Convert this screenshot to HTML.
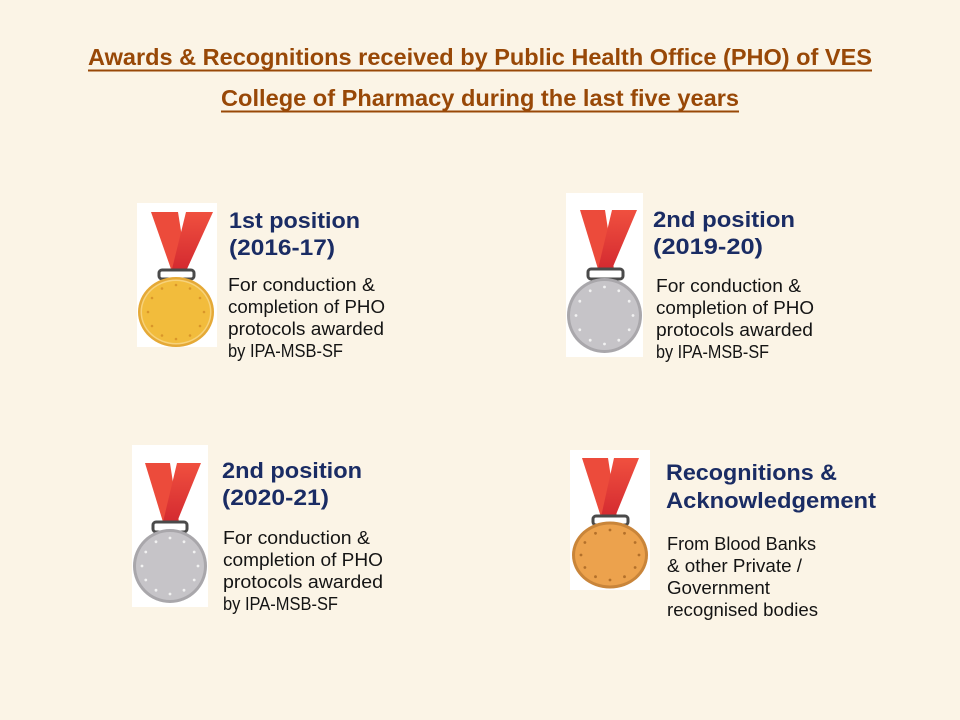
<!DOCTYPE html>
<html><head><meta charset="utf-8"><style>
html,body{margin:0;padding:0;background:#FBF4E6;}
svg{display:block;}
</style></head><body>
<svg width="960" height="720" viewBox="0 0 960 720" xmlns="http://www.w3.org/2000/svg" font-family="Liberation Sans, sans-serif">
<defs>
<linearGradient id="rib" x1="0" y1="0" x2="0" y2="1">
<stop offset="0" stop-color="#F0503F"/><stop offset="1" stop-color="#D42A30"/>
</linearGradient>
</defs>
<rect width="960" height="720" fill="#FBF4E6"/>

<!-- Title -->
<g fill="#984807" font-weight="bold" font-size="23">
<text x="88" y="65" textLength="784" lengthAdjust="spacingAndGlyphs">Awards &amp; Recognitions received by Public Health Office (PHO) of VES</text>
<text x="221" y="106" textLength="518" lengthAdjust="spacingAndGlyphs">College of Pharmacy during the last five years</text>
</g>
<rect x="88" y="69.5" width="784" height="2" fill="#984807"/>
<rect x="221" y="110.5" width="518" height="2" fill="#984807"/>

<!-- Medal 1 gold -->
<rect x="137" y="203" width="80" height="144" fill="#fff"/>
<g>
<polygon points="151,212 178,212 187,269 171,269" fill="#EC4B3B"/>
<polygon points="186,212 213,212 187,269 172,269" fill="url(#rib)"/>
<rect x="159" y="270" width="35" height="9" rx="3" fill="none" stroke="#4A4A4A" stroke-width="3"/>
<ellipse cx="176" cy="312" rx="38" ry="35" fill="#E5A936"/>
<ellipse cx="176" cy="312" rx="35.5" ry="32.5" fill="#F7D27A"/>
<ellipse cx="176" cy="312" rx="34" ry="31" fill="#F2BC3C"/>
<g fill="#D9962A">
<circle cx="176" cy="285" r="1.3"/><circle cx="190" cy="288.5" r="1.3"/><circle cx="200" cy="298" r="1.3"/><circle cx="204" cy="312" r="1.3"/><circle cx="200" cy="326" r="1.3"/><circle cx="190" cy="335.5" r="1.3"/><circle cx="176" cy="339" r="1.3"/><circle cx="162" cy="335.5" r="1.3"/><circle cx="152" cy="326" r="1.3"/><circle cx="148" cy="312" r="1.3"/><circle cx="152" cy="298" r="1.3"/><circle cx="162" cy="288.5" r="1.3"/>
</g>
</g>

<!-- Medal 2 silver -->
<rect x="566" y="193" width="77" height="164" fill="#fff"/>
<g>
<polygon points="580,210 605,210 614,269 598,269" fill="#EC4B3B"/>
<polygon points="612,210 637,210 612,269 598,269" fill="url(#rib)"/>
<rect x="588" y="269" width="35" height="10" rx="3" fill="none" stroke="#4A4A4A" stroke-width="3"/>
<ellipse cx="604.5" cy="315.5" rx="37.5" ry="37.5" fill="#A9A7AB"/>
<ellipse cx="604.5" cy="315.5" rx="34.5" ry="34.5" fill="#C6C4C8"/>
<g fill="#F2F2F2">
<circle cx="604.5" cy="287" r="1.4"/><circle cx="618.8" cy="290.8" r="1.4"/><circle cx="629.2" cy="301.2" r="1.4"/><circle cx="633" cy="315.5" r="1.4"/><circle cx="629.2" cy="329.8" r="1.4"/><circle cx="618.8" cy="340.2" r="1.4"/><circle cx="604.5" cy="344" r="1.4"/><circle cx="590.2" cy="340.2" r="1.4"/><circle cx="579.8" cy="329.8" r="1.4"/><circle cx="576" cy="315.5" r="1.4"/><circle cx="579.8" cy="301.2" r="1.4"/><circle cx="590.2" cy="290.8" r="1.4"/>
</g>
</g>

<!-- Medal 3 silver -->
<rect x="132" y="445" width="76" height="162" fill="#fff"/>
<g>
<polygon points="145,463 170,463 179,522 163,522" fill="#EC4B3B"/>
<polygon points="177,463 201,463 177,522 163,522" fill="url(#rib)"/>
<rect x="153" y="522" width="34" height="10" rx="3" fill="none" stroke="#4A4A4A" stroke-width="3"/>
<ellipse cx="170" cy="566" rx="37" ry="37" fill="#A9A7AB"/>
<ellipse cx="170" cy="566" rx="34" ry="34" fill="#C6C4C8"/>
<g fill="#F2F2F2">
<circle cx="170" cy="538" r="1.4"/><circle cx="184" cy="541.8" r="1.4"/><circle cx="194.2" cy="552" r="1.4"/><circle cx="198" cy="566" r="1.4"/><circle cx="194.2" cy="580" r="1.4"/><circle cx="184" cy="590.2" r="1.4"/><circle cx="170" cy="594" r="1.4"/><circle cx="156" cy="590.2" r="1.4"/><circle cx="145.8" cy="580" r="1.4"/><circle cx="142" cy="566" r="1.4"/><circle cx="145.8" cy="552" r="1.4"/><circle cx="156" cy="541.8" r="1.4"/>
</g>
</g>

<!-- Medal 4 bronze -->
<rect x="570" y="450" width="80" height="140" fill="#fff"/>
<g>
<polygon points="582,458 608,458 617,517 601,517" fill="#EC4B3B"/>
<polygon points="614,458 639,458 615,517 601,517" fill="url(#rib)"/>
<rect x="593" y="516" width="35" height="9" rx="3" fill="none" stroke="#4A4A4A" stroke-width="3"/>
<ellipse cx="610" cy="555" rx="38" ry="33.5" fill="#C9853A"/>
<ellipse cx="610" cy="555" rx="35" ry="30.5" fill="#ECA24D"/>
<g fill="#B3702A">
<circle cx="610" cy="530" r="1.4"/><circle cx="624.5" cy="533.3" r="1.4"/><circle cx="635.1" cy="542.5" r="1.4"/><circle cx="639" cy="555" r="1.4"/><circle cx="635.1" cy="567.5" r="1.4"/><circle cx="624.5" cy="576.7" r="1.4"/><circle cx="610" cy="580" r="1.4"/><circle cx="595.5" cy="576.7" r="1.4"/><circle cx="584.9" cy="567.5" r="1.4"/><circle cx="581" cy="555" r="1.4"/><circle cx="584.9" cy="542.5" r="1.4"/><circle cx="595.5" cy="533.3" r="1.4"/>
</g>
</g>

<!-- Headings -->
<g fill="#1A2C64" font-weight="bold" font-size="22">
<text x="229" y="228" textLength="131" lengthAdjust="spacingAndGlyphs">1st position</text>
<text x="229" y="255" textLength="106" lengthAdjust="spacingAndGlyphs">(2016-17)</text>
<text x="653" y="227" textLength="142" lengthAdjust="spacingAndGlyphs">2nd position</text>
<text x="653" y="254" textLength="110" lengthAdjust="spacingAndGlyphs">(2019-20)</text>
<text x="222" y="478" textLength="140" lengthAdjust="spacingAndGlyphs">2nd position</text>
<text x="222" y="505" textLength="107" lengthAdjust="spacingAndGlyphs">(2020-21)</text>
<text x="666" y="480" textLength="171" lengthAdjust="spacingAndGlyphs">Recognitions &amp;</text>
<text x="666" y="508" textLength="210" lengthAdjust="spacingAndGlyphs">Acknowledgement</text>
</g>

<!-- Body text -->
<g fill="#141414" font-size="18">
<text x="228" y="291" textLength="147" lengthAdjust="spacingAndGlyphs">For conduction &amp;</text>
<text x="228" y="313" textLength="157" lengthAdjust="spacingAndGlyphs">completion of PHO</text>
<text x="228" y="335" textLength="156" lengthAdjust="spacingAndGlyphs">protocols awarded</text>
<text x="228" y="357" textLength="115" lengthAdjust="spacingAndGlyphs">by IPA-MSB-SF</text>

<text x="656" y="292" textLength="145" lengthAdjust="spacingAndGlyphs">For conduction &amp;</text>
<text x="656" y="314" textLength="158" lengthAdjust="spacingAndGlyphs">completion of PHO</text>
<text x="656" y="336" textLength="157" lengthAdjust="spacingAndGlyphs">protocols awarded</text>
<text x="656" y="358" textLength="113" lengthAdjust="spacingAndGlyphs">by IPA-MSB-SF</text>

<text x="223" y="544" textLength="147" lengthAdjust="spacingAndGlyphs">For conduction &amp;</text>
<text x="223" y="566" textLength="160" lengthAdjust="spacingAndGlyphs">completion of PHO</text>
<text x="223" y="588" textLength="160" lengthAdjust="spacingAndGlyphs">protocols awarded</text>
<text x="223" y="610" textLength="115" lengthAdjust="spacingAndGlyphs">by IPA-MSB-SF</text>

<text x="667" y="550" textLength="149" lengthAdjust="spacingAndGlyphs">From Blood Banks</text>
<text x="667" y="572" textLength="135" lengthAdjust="spacingAndGlyphs">&amp; other Private /</text>
<text x="667" y="594" textLength="103" lengthAdjust="spacingAndGlyphs">Government</text>
<text x="667" y="616" textLength="151" lengthAdjust="spacingAndGlyphs">recognised bodies</text>
</g>
</svg>
</body></html>
